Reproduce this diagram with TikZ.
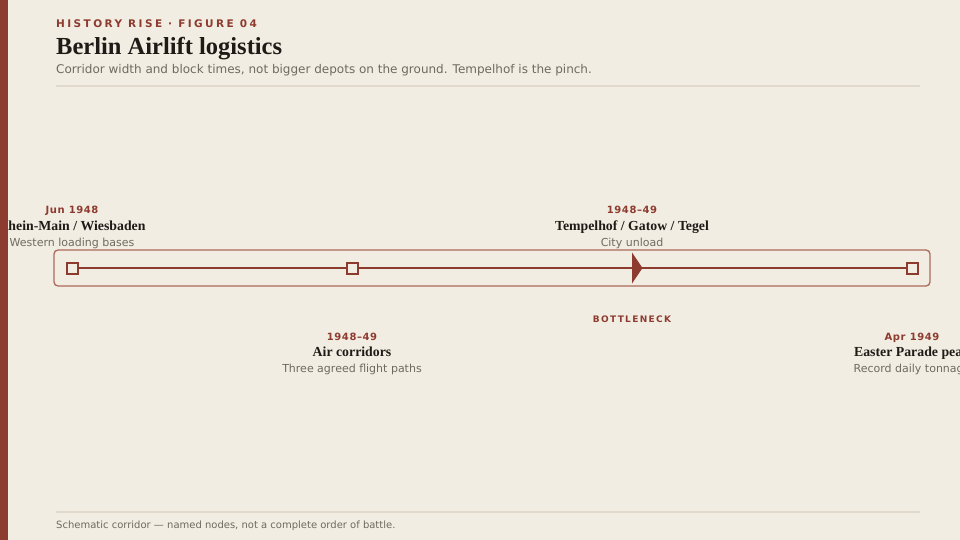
\documentclass[tikz,border=0pt]{standalone}
\usepackage{fontspec}
\setmainfont{Liberation Serif}
\setsansfont{DejaVu Sans}
\newfontfamily\kickerfont[LetterSpace=23]{DejaVu Sans Bold}
\newfontfamily\datefont[LetterSpace=6]{DejaVu Sans Bold}
\newfontfamily\bnfont[LetterSpace=15]{DejaVu Sans Bold}
\definecolor{bg}{HTML}{F2EDE3}
\definecolor{rust}{HTML}{8E3B2F}
\definecolor{rustlt}{HTML}{AD6A5B}
\definecolor{ink}{HTML}{1E1A16}
\definecolor{muted}{HTML}{6E6A62}
\definecolor{rule}{HTML}{E0D9CC}
\begin{document}
\begin{tikzpicture}[x=1pt,y=-1pt,
  txt/.style={inner sep=0pt,anchor=base},
  datelbl/.style={txt,font=\datefont\fontsize{10}{12}\selectfont,text=rust},
  namelbl/.style={txt,font=\bfseries\fontsize{13.8}{16}\selectfont,text=ink},
  desclbl/.style={txt,font=\sffamily\fontsize{11}{13}\selectfont,text=muted},
  stopbox/.style={rectangle,draw=rust,line width=2pt,fill=bg,minimum size=11pt,inner sep=0pt},
  track/.style={draw=rust,line width=1.8pt},
  hrule/.style={draw=rule,line width=1.8pt}]
\useasboundingbox (0,0) rectangle (960,540);
\clip (0,0) rectangle (960,540);
\fill[bg] (0,0) rectangle (960,540);
% header
\node[txt,anchor=base west,font=\kickerfont\fontsize{10.5}{12}\selectfont,text=rust] (kicker) at (56,28) {HISTORY RISE · FIGURE 04};
\node[txt,anchor=base west,font=\bfseries\fontsize{24.5}{28}\selectfont,text=ink] (title) at (56,55) {Berlin Airlift logistics};
\node[txt,anchor=base west,font=\sffamily\fontsize{12}{14}\selectfont,text=muted] (subtitle) at (56,74) {Corridor width and block times, not bigger depots on the ground. Tempelhof is the pinch.};
\coordinate (hr1) at (56,86); \coordinate (hr2) at (920,86);
\draw[hrule] (hr1) -- (hr2);
% corridor box
\node[draw=rustlt,line width=1.3pt,rounded corners=4pt,minimum width=876pt,minimum height=36pt,inner sep=0pt] (box) at (492,268) {};
% stops
\coordinate (s3) at (632,268);
\coordinate (p1) at (72,268);
\coordinate (p4) at (912,268);
\draw[track] (p1) -- (p4);
\node[stopbox] (s1) at (72,268) {};
\node[stopbox] (s2) at (352,268) {};
\node[stopbox] (s4) at (912,268) {};
\fill[rust] (632,252.5) -- (642.5,268) -- (632,283.5) -- cycle;
% labels above
\node[datelbl] (d1) at (72,213) {Jun 1948};
\node[namelbl] (n1) at (72,230) {Rhein-Main / Wiesbaden};
\node[desclbl] (e1) at (72,246) {Western loading bases};
\node[datelbl] (d3) at (632,213) {1948–49};
\node[namelbl] (n3) at (632,230) {Tempelhof / Gatow / Tegel};
\node[desclbl] (e3) at (632,246) {City unload};
\node[txt,font=\bnfont\fontsize{9}{11}\selectfont,text=rust] (bn) at (632,322) {BOTTLENECK};
% labels below
\node[datelbl] (d2) at (352,340) {1948–49};
\node[namelbl] (n2) at (352,356) {Air corridors};
\node[desclbl] (e2) at (352,372) {Three agreed flight paths};
\node[datelbl] (d4) at (912,340) {Apr 1949};
\node[namelbl] (n4) at (912,356) {Easter Parade peak};
\node[desclbl] (e4) at (912,372) {Record daily tonnage};
% footer
\coordinate (fr1) at (56,512); \coordinate (fr2) at (920,512);
\draw[hrule] (fr1) -- (fr2);
\node[txt,anchor=base west,font=\sffamily\fontsize{10}{12}\selectfont,text=muted] (foot) at (56,528) {Schematic corridor — named nodes, not a complete order of battle.};
% left bar
\fill[rust] (0,0) rectangle (8,540);
\end{tikzpicture}
\end{document}
